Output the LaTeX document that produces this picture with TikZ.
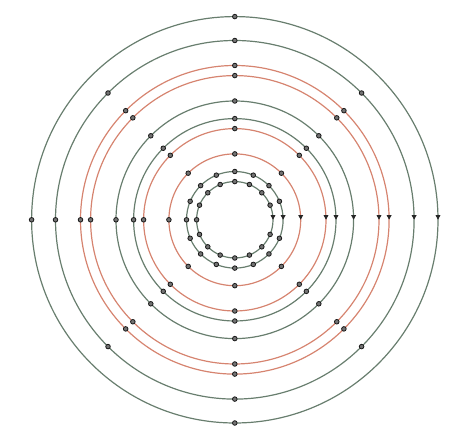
\documentclass[tikz,border=0pt]{standalone}
\usetikzlibrary{decorations.markings,arrows.meta}
\definecolor{ringgreen}{RGB}{104,126,110}
\definecolor{ringred}{RGB}{214,132,112}
\begin{document}
\begin{tikzpicture}[x=1pt,y=1pt,
  ring/.style={line width=1.2pt},
  dot/.style={circle,draw=black!90,fill=black!55,line width=0.8pt,inner sep=0pt,minimum size=4.6pt},
  ringarrow/.style={postaction={decorate},decoration={markings,mark=at position 0.25 with {\arrow[black!85]{Triangle[width=4.6pt,length=4.6pt]}}}}]
\useasboundingbox (0,0) rectangle (474,441);
\coordinate (C) at (234.8,221.2);
\foreach \i/\r/\c/\s in {1/203.2/ringgreen/90, 2/179.3/ringgreen/45, 3/154.3/ringred/45, 4/144.2/ringred/45, 5/118.8/ringgreen/45, 6/101.2/ringgreen/45, 7/91.2/ringred/45, 8/65.9/ringred/45, 9/48.3/ringgreen/22.5, 10/38.2/ringgreen/22.5} {
  \draw[ring,\c,ringarrow] ([shift={(90:\r)}]C) arc[start angle=90,end angle=-270,radius=\r];
  \pgfmathtruncatemacro\n{360/\s-1}
  \foreach \k in {1,...,\n} {
    \pgfmathsetmacro\ang{\k*\s}
    \node[dot] (d\i-\k) at ([shift={(\ang:\r)}]C) {};
  }
}
\end{tikzpicture}
\end{document}
